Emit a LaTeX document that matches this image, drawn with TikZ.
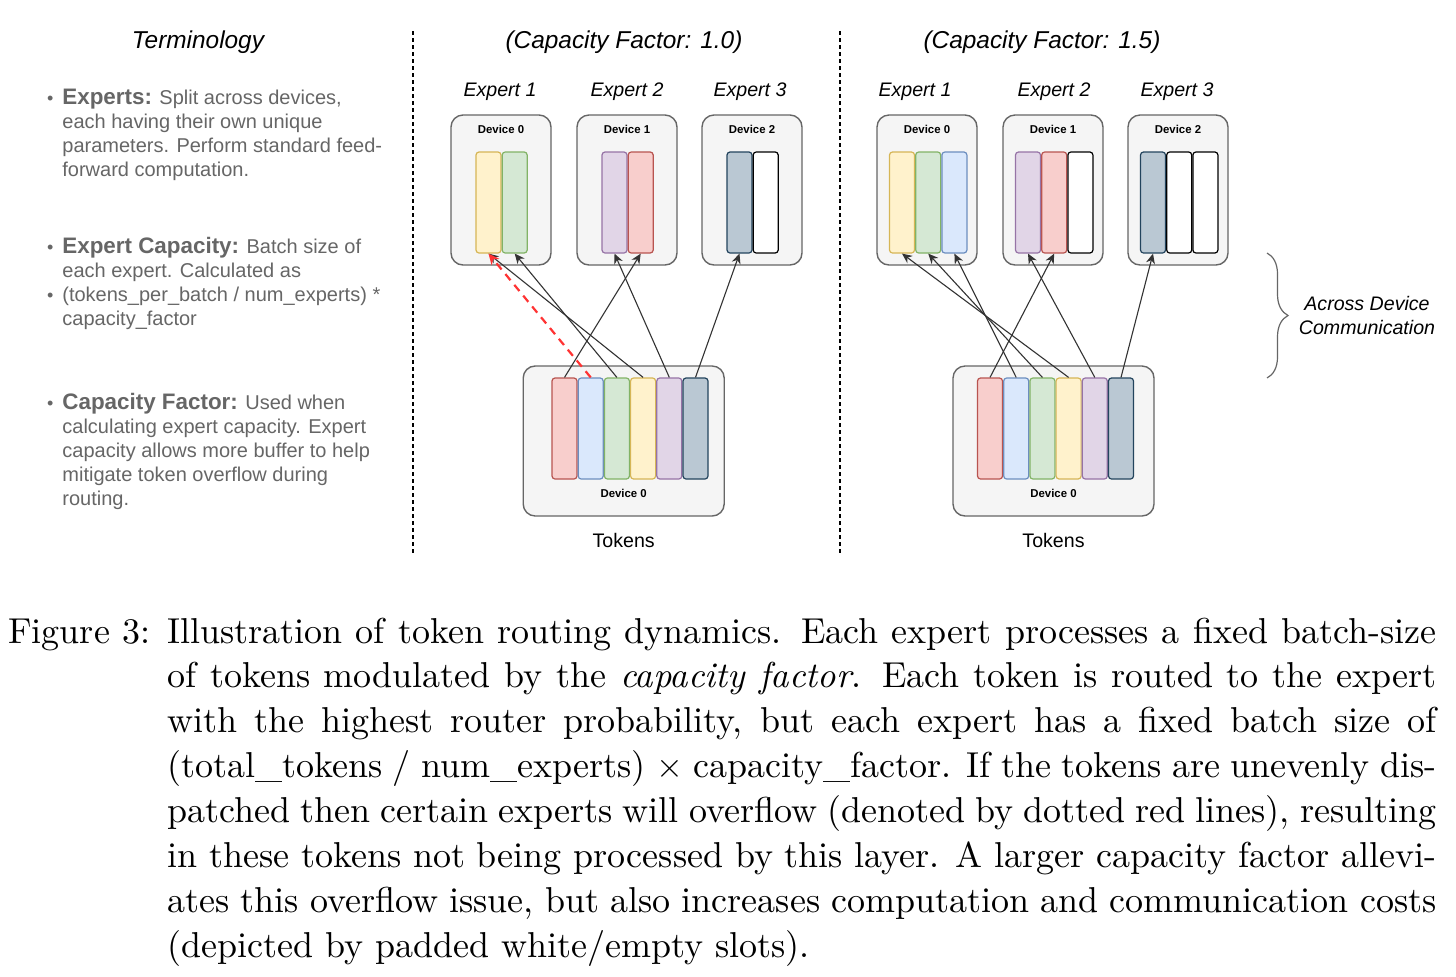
\documentclass[tikz,border=0pt]{standalone}
\usepackage{fontspec}
\newfontfamily\hv{Liberation Sans}
\newfontfamily\capfont{lmroman10}[Extension=.otf,UprightFont=*-regular,ItalicFont=*-italic,BoldFont=*-bold]
\usetikzlibrary{positioning,arrows.meta,decorations.pathreplacing}

\definecolor{boxfill}{HTML}{F5F5F5}
\definecolor{boxline}{HTML}{666666}
\definecolor{redf}{HTML}{F8CECC}    \definecolor{redl}{HTML}{B85450}
\definecolor{bluef}{HTML}{DAE8FC}   \definecolor{bluel}{HTML}{6C8EBF}
\definecolor{greenf}{HTML}{D5E8D4}  \definecolor{greenl}{HTML}{82B366}
\definecolor{yellowf}{HTML}{FFF2CC} \definecolor{yellowl}{HTML}{D6B656}
\definecolor{purplef}{HTML}{E1D5E7} \definecolor{purplel}{HTML}{9673A6}
\definecolor{slatef}{HTML}{BAC8D3}  \definecolor{slatel}{HTML}{23445D}
\definecolor{termgray}{HTML}{666666}
\definecolor{linkgray}{HTML}{333333}
\definecolor{overred}{HTML}{FF3333}

\newcommand{\termbul}{\llap{{\fontsize{9pt}{9pt}\selectfont •}\hspace{4.5pt}}}
\newcommand{\termbf}{\fontsize{11.2pt}{12pt}\selectfont\bfseries}

\tikzstyle{devblock} = [draw=boxline,fill=boxfill,rounded corners=6pt,line width=0.7pt,minimum width=50pt,minimum height=75pt,inner sep=0pt]
\tikzstyle{tokblock} = [devblock,minimum width=100.5pt]
\tikzstyle{slot}     = [draw,rounded corners=1.5pt,line width=0.6pt,minimum width=12.5pt,minimum height=50.5pt,inner sep=0pt]
\tikzstyle{rslot}    = [slot,draw=redl,fill=redf]
\tikzstyle{bslot}    = [slot,draw=bluel,fill=bluef]
\tikzstyle{gslot}    = [slot,draw=greenl,fill=greenf]
\tikzstyle{yslot}    = [slot,draw=yellowl,fill=yellowf]
\tikzstyle{pslot}    = [slot,draw=purplel,fill=purplef]
\tikzstyle{sslot}    = [slot,draw=slatel,fill=slatef]
\tikzstyle{wslot}    = [slot,draw=black,fill=white]
\tikzstyle{devlabel} = [inner sep=0pt,font=\hv\fontsize{5.7pt}{7pt}\selectfont\bfseries]
\tikzstyle{head}     = [anchor=base,inner sep=0pt,font=\hv\itshape\fontsize{12.2pt}{14pt}\selectfont]
\tikzstyle{explabel} = [anchor=base,inner sep=0pt,font=\hv\itshape\fontsize{9.8pt}{12pt}\selectfont]
\tikzstyle{toklabel} = [inner sep=0pt,font=\hv\fontsize{9.8pt}{12pt}\selectfont]
\tikzstyle{term}     = [anchor=base west,inner sep=0pt,text=termgray,font=\hv\fontsize{10pt}{12pt}\selectfont]
\tikzstyle{route}    = [draw=linkgray,line width=0.55pt,-{Stealth[length=5pt,width=4.5pt]}]
\tikzstyle{overflow} = [draw=overred,line width=1.1pt,dash pattern=on 4pt off 3pt,-{Stealth[length=5.5pt,width=5pt]}]
\tikzstyle{colsep}   = [line width=0.6pt,dash pattern=on 2pt off 1.5pt]

\begin{document}
\begin{tikzpicture}[x=0.5pt,y=-0.5pt]
\path[use as bounding box,fill=white] (0,0) rectangle (1456,976);

% column separators
\coordinate (sep1 top) at (413,31);  \coordinate (sep1 bot) at (413,555);
\coordinate (sep2 top) at (840,31);  \coordinate (sep2 bot) at (840,555);
\draw[colsep] (sep1 top) -- (sep1 bot);
\draw[colsep] (sep2 top) -- (sep2 bot);

% terminology
\node[head] (term head) at (198,48) {Terminology};
\node[term] (term 1) at (62,104) {\termbul{\termbf Experts:} Split across devices,};
\node[term] (term 2) at (62,128) {each having their own unique};
\node[term] (term 3) at (62,152) {parameters. Perform standard feed-};
\node[term] (term 4) at (62,176) {forward computation.};
\node[term] (term 5) at (62,253) {\termbul{\termbf Expert Capacity:} Batch size of};
\node[term] (term 6) at (62,277) {each expert. Calculated as};
\node[term] (term 7) at (62,301) {\termbul(tokens\_per\_batch / num\_experts) *};
\node[term] (term 8) at (62,325) {capacity\_factor};
\node[term] (term 9) at (62,409) {\termbul{\termbf Capacity Factor:} Used when};
\node[term] (term 10) at (62,433) {calculating expert capacity. Expert};
\node[term] (term 11) at (62,457) {capacity allows more buffer to help};
\node[term] (term 12) at (62,481) {mitigate token overflow during};
\node[term] (term 13) at (62,505) {routing.};

% capacity factor 1.0
\node[head] (head A) at (624,48) {(Capacity Factor: 1.0)};
\node[explabel] (expA 1) at (500,96) {Expert 1};
\node[explabel] (expA 2) at (627,96) {Expert 2};
\node[explabel] (expA 3) at (750,96) {Expert 3};

\node[devblock] (devA 0) at (501,190) {};
\node[devblock] (devA 1) at (627,190) {};
\node[devblock] (devA 2) at (752,190) {};
\node[devlabel,below=5.2pt of devA 0.north] (devA 0 lab) {Device 0};
\node[devlabel,below=5.2pt of devA 1.north] (devA 1 lab) {Device 1};
\node[devlabel,below=5.2pt of devA 2.north] (devA 2 lab) {Device 2};

\node[yslot] (slA 1) at (488.5,202.5) {};
\node[gslot,right=0pt of slA 1] (slA 2) {};
\node[pslot] (slA 3) at (614.5,202.5) {};
\node[rslot,right=0pt of slA 3] (slA 4) {};
\node[sslot] (slA 5) at (739.5,202.5) {};
\node[wslot,right=0pt of slA 5] (slA 6) {};

\node[tokblock] (tokboxA) at (623.7,441) {};
\node[devlabel,above=9.5pt of tokboxA.south] (tokboxA lab) {Device 0};
\node[toklabel,below=8pt of tokboxA.south] (tokensA) {Tokens};
\node[rslot] (tokA 1) at (564.5,428.5) {};
\node[bslot,right=0pt of tokA 1] (tokA 2) {};
\node[gslot,right=0pt of tokA 2] (tokA 3) {};
\node[yslot,right=0pt of tokA 3] (tokA 4) {};
\node[pslot,right=0pt of tokA 4] (tokA 5) {};
\node[sslot,right=0pt of tokA 5] (tokA 6) {};

\draw[route] (tokA 1.north) -- (slA 4.south);
\draw[route] (tokA 3.north) -- (slA 2.south);
\draw[route] (tokA 4.north) -- (slA 1.south);
\draw[route] (tokA 5.north) -- (slA 3.south);
\draw[route] (tokA 6.north) -- (slA 5.south);
\draw[overflow] (tokA 2.north) -- (slA 1.south);

% capacity factor 1.5
\node[head] (head B) at (1042,48) {(Capacity Factor: 1.5)};
\node[explabel] (expB 1) at (915,96) {Expert 1};
\node[explabel] (expB 2) at (1054,96) {Expert 2};
\node[explabel] (expB 3) at (1177,96) {Expert 3};

\node[devblock] (devB 0) at (927,190) {};
\node[devblock] (devB 1) at (1053,190) {};
\node[devblock] (devB 2) at (1178,190) {};
\node[devlabel,below=5.2pt of devB 0.north] (devB 0 lab) {Device 0};
\node[devlabel,below=5.2pt of devB 1.north] (devB 1 lab) {Device 1};
\node[devlabel,below=5.2pt of devB 2.north] (devB 2 lab) {Device 2};

\node[yslot] (slB 1) at (902,202.5) {};
\node[gslot,right=0pt of slB 1] (slB 2) {};
\node[bslot,right=0pt of slB 2] (slB 3) {};
\node[pslot] (slB 4) at (1028,202.5) {};
\node[rslot,right=0pt of slB 4] (slB 5) {};
\node[wslot,right=0pt of slB 5] (slB 6) {};
\node[sslot] (slB 7) at (1153,202.5) {};
\node[wslot,right=0pt of slB 7] (slB 8) {};
\node[wslot,right=0pt of slB 8] (slB 9) {};

\node[tokblock] (tokboxB) at (1053.5,441) {};
\node[devlabel,above=9.5pt of tokboxB.south] (tokboxB lab) {Device 0};
\node[toklabel,below=8pt of tokboxB.south] (tokensB) {Tokens};
\node[rslot] (tokB 1) at (990,428.5) {};
\node[bslot,right=0pt of tokB 1] (tokB 2) {};
\node[gslot,right=0pt of tokB 2] (tokB 3) {};
\node[yslot,right=0pt of tokB 3] (tokB 4) {};
\node[pslot,right=0pt of tokB 4] (tokB 5) {};
\node[sslot,right=0pt of tokB 5] (tokB 6) {};

\draw[route] (tokB 1.north) -- (slB 5.south);
\draw[route] (tokB 2.north) -- (slB 3.south);
\draw[route] (tokB 3.north) -- (slB 2.south);
\draw[route] (tokB 4.north) -- (slB 1.south);
\draw[route] (tokB 5.north) -- (slB 4.south);
\draw[route] (tokB 6.north) -- (slB 7.south);

% brace
\coordinate (brace top) at (1267,253);
\coordinate (brace bot) at (1267,378);
\draw[decorate,decoration={brace,amplitude=10.5pt},draw=boxline,line width=0.6pt] (brace top) -- (brace bot);
\node[explabel] (across 1) at (1367,310) {Across Device};
\node[explabel] (across 2) at (1367,334) {Communication};

% caption
\node[anchor=base west,inner sep=0pt,text width=714pt,align=justify,font=\capfont\fontsize{18pt}{22.45pt}\selectfont] (caption) at (8,643)
{\hangindent=79.5pt\hangafter=1\makebox[79.5pt][l]{Figure 3:}Illustration of token routing dynamics. Each expert processes a fixed batch-size\linebreak
of tokens modulated by the \emph{capacity factor}. Each token is routed to the expert\linebreak
with the highest router probability, but each expert has a fixed batch size of\linebreak
(total\_tokens / num\_experts) $\times$ capacity\_factor. If the tokens are unevenly dis-\linebreak
patched then certain experts will overflow (denoted by dotted red lines), resulting\linebreak
in these tokens not being processed by this layer. A larger capacity factor allevi-\linebreak
ates this overflow issue, but also increases computation and communication costs\linebreak
(depicted by padded white/empty slots).\par};
\end{tikzpicture}
\end{document}
